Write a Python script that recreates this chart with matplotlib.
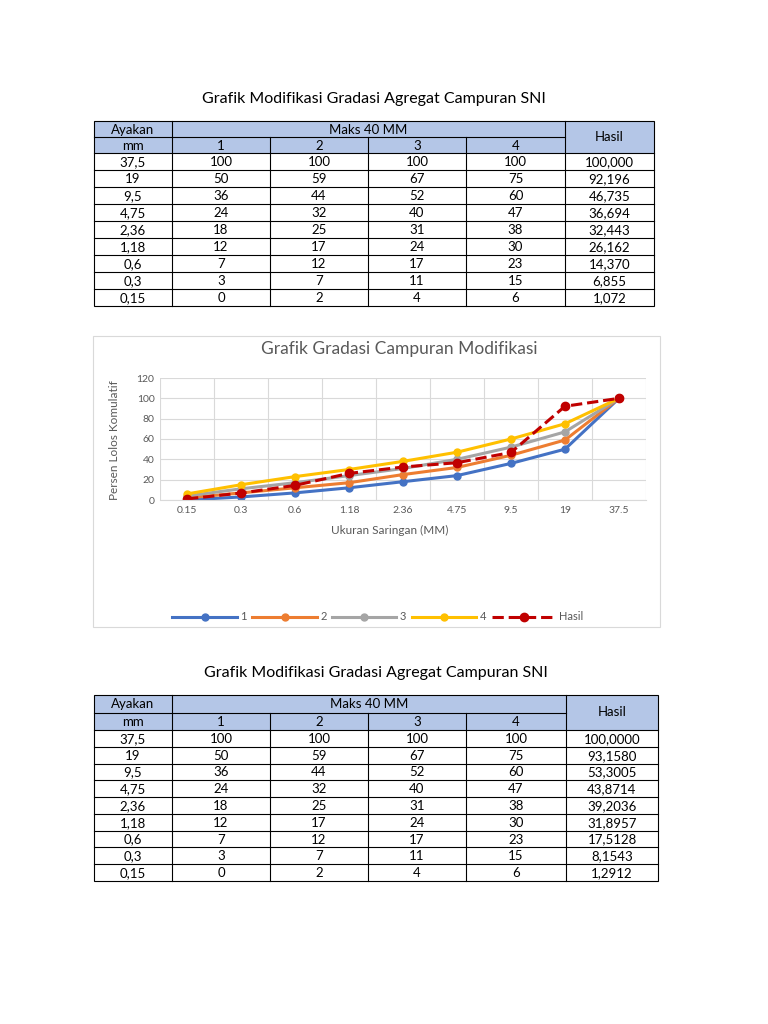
import matplotlib.pyplot as plt
from matplotlib.patches import Rectangle

plt.rcParams['font.family'] = ['Lato', 'DejaVu Sans']

# data (table order: coarse -> fine)
ayakan = ['37,5', '19', '9,5', '4,75', '2,36', '1,18', '0,6', '0,3', '0,15']
s1 = [100, 50, 36, 24, 18, 12, 7, 3, 0]
s2 = [100, 59, 44, 32, 25, 17, 12, 7, 2]
s3 = [100, 67, 52, 40, 31, 24, 17, 11, 4]
s4 = [100, 75, 60, 47, 38, 30, 23, 15, 6]
hasil_a = [100.000, 92.196, 46.735, 36.694, 32.443, 26.162, 14.370, 6.855, 1.072]
hasil_b = [100.0000, 93.1580, 53.3005, 43.8714, 39.2036, 31.8957, 17.5128, 8.1543, 1.2912]
sieve_labels = ['0.15', '0.3', '0.6', '1.18', '2.36', '4.75', '9.5', '19', '37.5']
series_names = ['1', '2', '3', '4']

W, H = 768, 1024
fig = plt.figure(figsize=(W / 100, H / 100), dpi=100)
fig.patch.set_facecolor('white')

# full page overlay in pixel coords
pg = fig.add_axes([0, 0, 1, 1])
pg.set_xlim(0, W)
pg.set_ylim(H, 0)
pg.axis('off')

head_fill = '#B4C6E7'
fs = 9.5


def dec(v, n):
    return ('{:.%df}' % n).format(v).replace('.', ',')


def draw_table(title_y, edges, h1, h2, h3, bottom, hasil, nd):
    pg.text((edges[0] + edges[-1]) / 2, title_y,
            'Grafik Modifikasi Gradasi Agregat Campuran SNI',
            ha='center', va='center', fontsize=11.5, color='black')
    pg.add_patch(Rectangle((edges[0], h1), edges[-1] - edges[0], h3 - h1,
                           facecolor=head_fill, edgecolor='none'))
    lw = 0.8
    rh = (bottom - h3) / len(ayakan)
    pg.add_patch(Rectangle((edges[0], h1), edges[-1] - edges[0], bottom - h1,
                           facecolor='none', edgecolor='black', lw=lw))
    for i, x in enumerate(edges[1:-1], start=1):
        top = h2 if 1 < i < 5 else h1
        pg.plot([x, x], [top, bottom], color='black', lw=lw)
    pg.plot([edges[0], edges[1]], [h2, h2], color='black', lw=lw)
    pg.plot([edges[1], edges[5]], [h2, h2], color='black', lw=lw)
    for k in range(len(ayakan)):
        y = h3 + k * rh
        pg.plot([edges[0], edges[-1]], [y, y], color='black', lw=lw)
    off = 0.5
    pg.text((edges[0] + edges[1]) / 2, (h1 + h2) / 2 + off, 'Ayakan', ha='center', va='center', fontsize=fs)
    pg.text((edges[0] + edges[1]) / 2, (h2 + h3) / 2 + off, 'mm', ha='center', va='center', fontsize=fs)
    pg.text((edges[1] + edges[5]) / 2, (h1 + h2) / 2 + off, 'Maks 40 MM', ha='center', va='center', fontsize=fs)
    for j, nm in enumerate(series_names):
        pg.text((edges[j + 1] + edges[j + 2]) / 2, (h2 + h3) / 2 + off, nm, ha='center', va='center', fontsize=fs)
    pg.text((edges[5] + edges[6]) / 2, (h1 + h3) / 2, 'Hasil', ha='center', va='center', fontsize=fs)
    cols = [s1, s2, s3, s4]
    for k in range(len(ayakan)):
        yc = h3 + (k + 0.5) * rh + off
        pg.text((edges[0] + edges[1]) / 2, yc, ayakan[k], ha='center', va='center', fontsize=fs)
        for j, c in enumerate(cols):
            pg.text((edges[j + 1] + edges[j + 2]) / 2, yc, str(c[k]), ha='center', va='center', fontsize=fs)
        pg.text((edges[5] + edges[6]) / 2, yc, dec(hasil[k], nd), ha='center', va='center', fontsize=fs)


draw_table(99, [94, 172, 270, 368, 466, 565, 654], 121, 137, 153, 306, hasil_a, 3)
draw_table(673, [94, 172, 270, 368, 466, 566, 658], 695, 713, 730, 881, hasil_b, 4)

# chart frame
pg.add_patch(Rectangle((93, 336), 567, 291, facecolor='white', edgecolor='#D9D9D9', lw=0.8))
pg.text(399, 349, 'Grafik Gradasi Campuran Modifikasi', ha='center', va='center',
        fontsize=12.5, color='#595959')
pg.text(115, 440, 'Persen Lolos Komulatif', ha='center', va='center', rotation=90,
        fontsize=8.5, color='#595959')
pg.text(390, 530, 'Ukuran Saringan (MM)', ha='center', va='center', fontsize=8.5, color='#595959')

# chart
x0, x1, y0, y1 = 160, 646, 378, 500
ax = fig.add_axes([x0 / W, 1 - y1 / H, (x1 - x0) / W, (y1 - y0) / H])
ax.set_facecolor('none')
xs = list(range(len(sieve_labels)))
colors = ['#4472C4', '#ED7D31', '#A5A5A5', '#FFC000']
handles = []
for s, c, nm in zip([s1, s2, s3, s4], colors, series_names):
    ln, = ax.plot(xs, s[::-1], color=c, lw=2.2, marker='o', ms=5, label=nm)
    handles.append(ln)
ln, = ax.plot(xs, hasil_a[::-1], color='#C00000', lw=2.2, ls='--', marker='o', ms=6, label='Hasil')
handles.append(ln)

ax.set_xlim(-0.5, 8.5)
ax.set_ylim(0, 120)
ax.set_yticks(range(0, 121, 20))
ax.set_xticks(xs)
ax.set_xticklabels(sieve_labels)
ax.set_xticks([i - 0.5 for i in range(10)], minor=True)
ax.grid(True, which='minor', axis='x', color='#D9D9D9', lw=0.8)
ax.grid(True, which='major', axis='y', color='#D9D9D9', lw=0.8)
ax.set_axisbelow(True)
for side in ['top', 'right', 'left']:
    ax.spines[side].set_visible(False)
ax.spines['bottom'].set_color('#D9D9D9')
ax.tick_params(which='both', length=0, labelsize=7.5, colors='#595959', pad=4)

fig.legend(handles=handles, loc='center', bbox_to_anchor=(378 / W, 1 - 617 / H), ncol=5,
           frameon=False, fontsize=8, handlelength=5.8, columnspacing=0.5, handletextpad=0.3,
           labelcolor='#595959')

fig.savefig('out.png', dpi=100)
